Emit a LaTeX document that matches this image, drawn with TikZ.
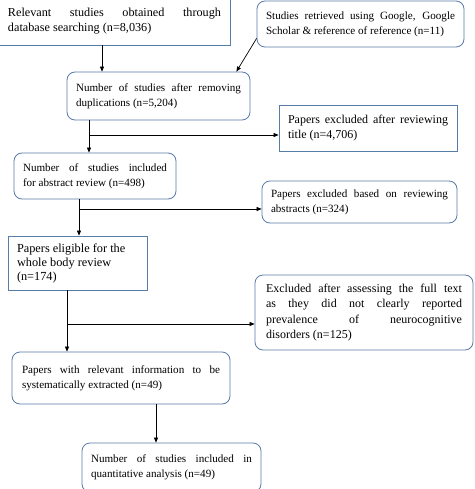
\documentclass[tikz,border=0pt]{standalone}
\usepackage{fontspec}
\setmainfont{Liberation Serif}
\usetikzlibrary{arrows.meta,calc}
\definecolor{bx}{RGB}{88,124,168}
\setlength{\parindent}{0pt}
\newcommand{\jl}[2]{\leavevmode\hbox to #1{\spaceskip=0pt\xspaceskip=0pt\relax #2}}
\begin{document}
\begin{tikzpicture}[x=1pt,y=-1pt,
  box/.style={draw=bx,line width=0.8pt,align=left,inner xsep=9pt,inner ysep=0pt,anchor=center,
    font=\fontsize{11.1}{15}\selectfont,
    execute at begin node={\spaceskip=0pt\xspaceskip=0pt\relax}},
  rbox/.style={box,rounded corners=8pt},
  big/.style={font=\fontsize{12.2}{15}\selectfont},
  arr/.style={-{Triangle[length=5pt,width=4pt]},line width=0.7pt}]
\useasboundingbox (0,0) rectangle (474,489);
\fill[white] (0,0) rectangle (474,489);
\clip (0,0) rectangle (474,489);

\node[box,big,minimum width=231pt,minimum height=48pt,text width=213pt] (b1) at (114.5,21)
  {\jl{213pt}{Relevant studies obtained through}\\database searching (n=8,036)};
\node[rbox,minimum width=207pt,minimum height=46pt,text width=189pt] (b2) at (360.5,24)
  {\jl{189pt}{Studies retrieved using Google, Google}\\Scholar \& reference of reference (n=11)};
\node[rbox,minimum width=183pt,minimum height=48pt,text width=165pt] (b3) at (158.5,96)
  {\jl{165pt}{Number of studies after removing}\\duplications (n=5,204)};
\node[box,font=\fontsize{12}{15}\selectfont,minimum width=178pt,minimum height=46pt,text width=160pt] (b4) at (368,128)
  {\jl{160pt}{Papers excluded after reviewing}\\title (n=4,706)};
\node[rbox,minimum width=162pt,minimum height=46pt,text width=144pt] (b5) at (95,176)
  {\jl{144pt}{Number of studies included}\\for abstract review (n=498)};
\node[rbox,minimum width=195pt,minimum height=42pt,text width=177pt] (b6) at (359.5,202)
  {\jl{177pt}{Papers excluded based on reviewing}\\abstracts (n=324)};
\node[box,font=\fontsize{12.3}{14}\selectfont,minimum width=139pt,minimum height=54pt,text width=121pt] (b7) at (77.5,263)
  {Papers eligible for the\\whole body review\\(n=174)};
\node[rbox,font=\fontsize{12}{15.3}\selectfont,minimum width=218pt,minimum height=75pt,text width=196pt,inner xsep=11pt] (b8) at (364,312.5)
  {\jl{196pt}{Excluded after assessing the full text}\\\jl{196pt}{as they did not clearly reported}\\\jl{196pt}{prevalence of neurocognitive}\\disorders (n=125)};
\node[rbox,minimum width=218pt,minimum height=52pt,text width=198pt,inner xsep=10pt] (b9) at (121,378)
  {\jl{198pt}{Papers with relevant information to be}\\systematically extracted (n=49)};
\node[rbox,minimum width=179pt,minimum height=49pt,text width=161pt] (b10) at (171.5,467.5)
  {\jl{161pt}{Number of studies included in}\\quantitative analysis (n=49)};

\draw[arr] ([xshift=-12.5pt]b1.south) -- ([xshift=-12.5pt]b1.south |- b3.north);
\draw[arr] ([yshift=9pt]b2.south west) -- ([xshift=-14pt]b3.north east);

\draw[arr] ([xshift=-69.5pt]b3.south) -- ([xshift=-69.5pt]b3.south |- b5.north);
\coordinate (j1) at (89,135);
\draw[arr] (j1) -- (j1 -| b4.west);

\draw[arr] ([xshift=-16pt]b5.south) -- ([xshift=-16pt]b5.south |- b7.north);
\coordinate (j2) at (79,209);
\draw[arr] (j2) -- (j2 -| b6.west);

\draw[arr] ([xshift=-10.5pt]b7.south) -- ([xshift=-10.5pt]b7.south |- b9.north);
\coordinate (j3) at (67,324);
\draw[arr] (j3) -- (j3 -| b8.west);

\draw[arr] ([xshift=35pt]b9.south) -- ([xshift=35pt]b9.south |- b10.north);
\end{tikzpicture}
\end{document}
